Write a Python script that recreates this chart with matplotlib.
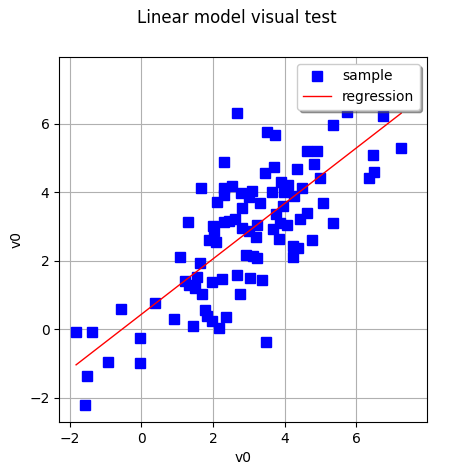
import numpy as np
import matplotlib
matplotlib.use("Agg")
import matplotlib.pyplot as plt

# sample points
x = [-1.82, -1.37, -0.58, 0.37, -0.04, -0.94, -0.04, -1.52, -1.58,
     0.92, 1.45, 1.79, 1.84, 1.97, 2.16, 2.37, 2.75, 1.69, 1.51, 1.32,
     1.21, 1.56, 1.98, 2.24, 2.68, 3.04, 3.38, 3.48, 1.09, 1.63,
     2.93, 3.12, 3.23, 4.23, 4.23, 4.36, 1.88, 2.07, 3.21, 3.85,
     4.76, 1.29, 2.00, 2.04, 2.32, 2.45, 2.60, 2.81, 3.00, 3.23,
     3.68, 3.86, 4.06, 2.81, 3.32, 3.76, 3.96, 4.44, 4.63, 5.07,
     5.34, 2.11, 2.30, 2.30, 2.53, 1.67, 2.77, 3.09, 3.00, 3.65,
     3.97, 4.27, 4.49, 4.09, 3.90, 3.44, 3.70, 4.33, 4.98, 4.83,
     4.63, 4.89, 2.32, 2.67, 3.51, 3.72, 5.35, 5.75, 6.73, 7.25,
     6.47, 6.49, 6.36]
y = [-0.07, -0.09, 0.61, 0.78, -0.25, -0.96, -0.99, -1.35, -2.21,
     0.29, 0.09, 0.56, 0.40, 0.25, 0.03, 0.35, 1.03, 1.02, 1.20, 1.30,
     1.41, 1.54, 1.39, 1.46, 1.60, 1.49, 1.44, -0.36, 2.11, 1.95,
     2.17, 2.13, 2.08, 2.12, 2.45, 2.37, 2.62, 2.55, 2.71, 2.64,
     2.61, 3.13, 3.03, 2.88, 3.13, 3.17, 3.22, 2.95, 2.88, 3.05,
     2.92, 3.12, 3.04, 3.55, 3.70, 3.37, 3.61, 3.22, 3.41, 3.70,
     3.10, 3.72, 3.93, 4.14, 4.19, 4.12, 3.99, 4.03, 3.88, 4.02,
     4.00, 3.90, 4.12, 4.22, 4.32, 4.58, 4.74, 4.68, 4.42, 4.83,
     5.22, 5.22, 4.90, 6.31, 5.78, 5.68, 5.97, 6.36, 6.22, 5.29,
     5.08, 4.61, 4.42]

# regression line (intercept, slope)
intercept = 0.44
slope = 0.81

x = np.array(x)
y = np.array(y)

fig = plt.figure(figsize=(4.74, 4.74), dpi=100)
fig.suptitle("Linear model visual test")
ax = fig.add_subplot(111)

ax.plot(x, y, 's', color='blue', markersize=6.5, label='sample')
xl = np.array([x.min(), x.max()])
ax.plot(xl, intercept + slope * xl, '-', color='red', linewidth=1, label='regression')

ax.set_xlim(-2.29, 7.96)
ax.set_ylim(-2.70, 7.96)
ax.set_xlabel("v0")
ax.set_ylabel("v0")
ax.grid()
ax.legend(loc='upper right', shadow=True)

fig.savefig("out.png")
